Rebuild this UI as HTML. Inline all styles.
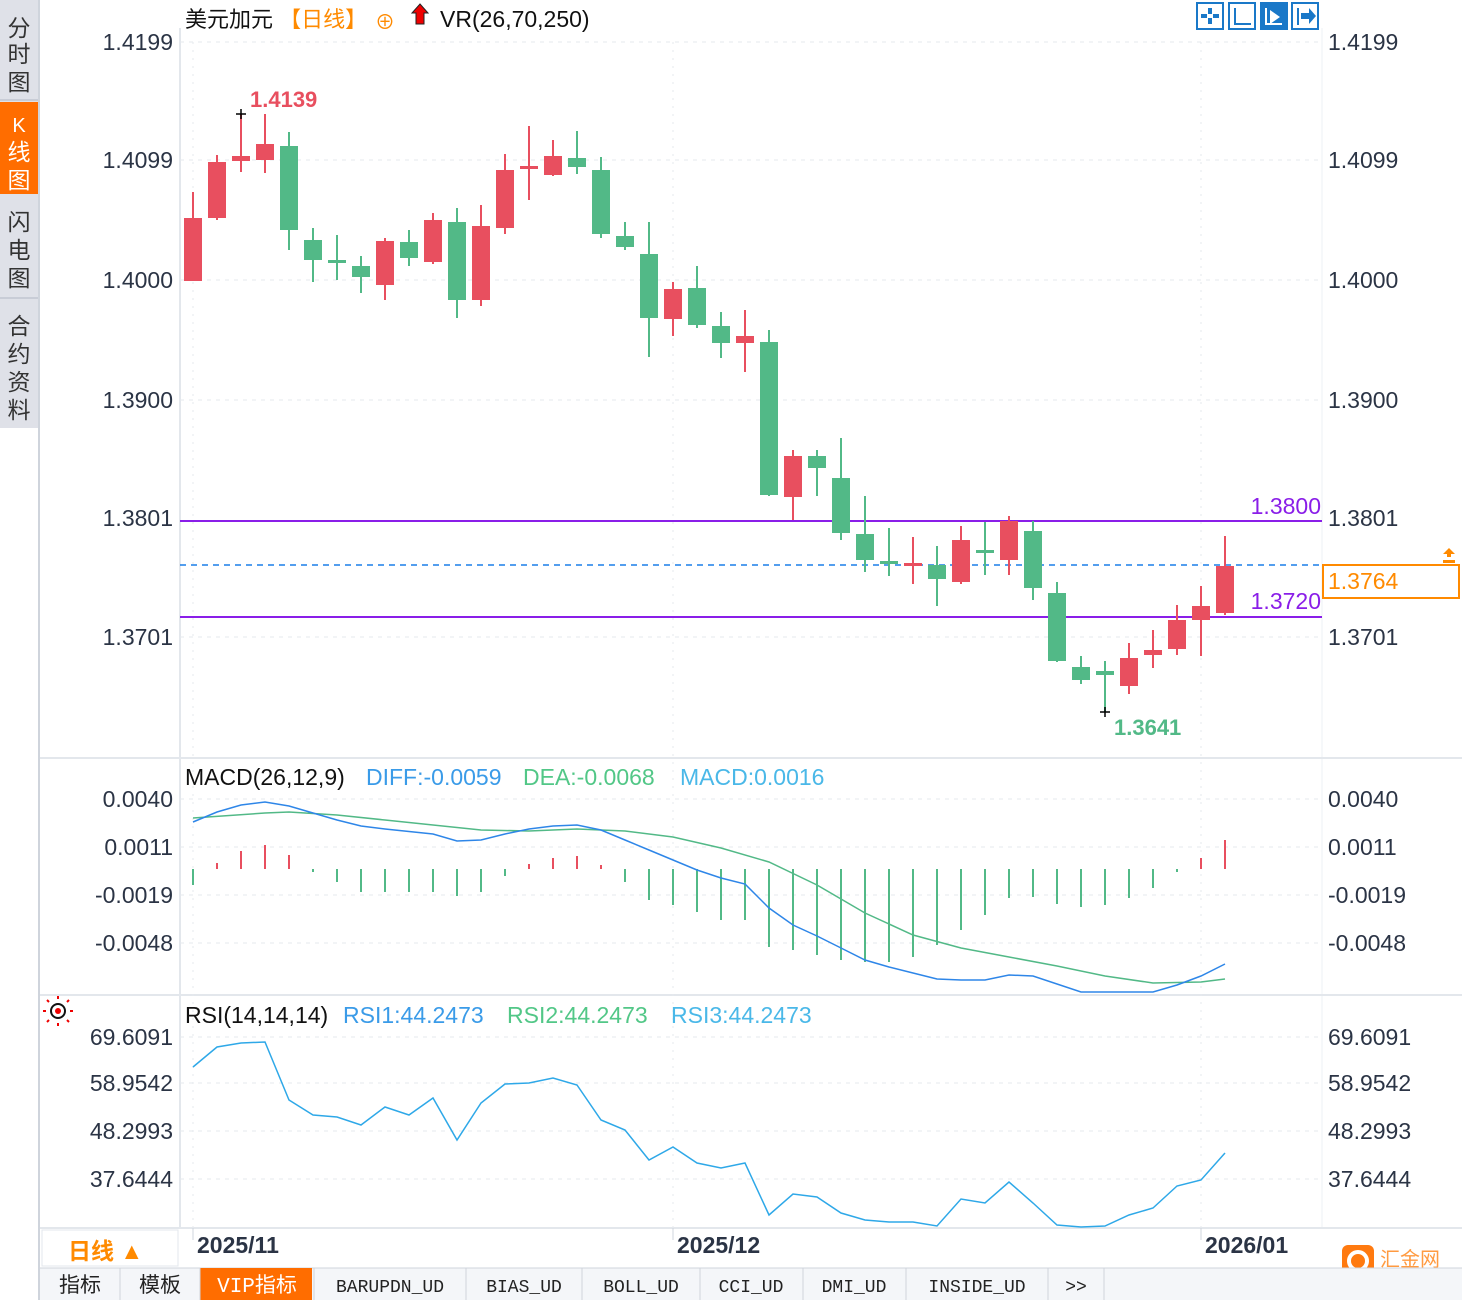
<!DOCTYPE html>
<html><head><meta charset="utf-8"><style>
html,body{margin:0;padding:0;background:#fff;}
svg{display:block;font-family:"Liberation Sans","Noto Sans CJK SC",sans-serif;}
</style></head><body>
<svg width="1462" height="1300" viewBox="0 0 1462 1300" xmlns="http://www.w3.org/2000/svg">
<rect x="0" y="0" width="40" height="1300" fill="#fff"/>
<rect x="0" y="0" width="38" height="428" fill="#dfe1e8"/>
<rect x="0" y="102" width="38" height="92" fill="#ff6d00"/>
<line x1="0" y1="100" x2="38" y2="100" stroke="#c8ccd6" stroke-width="2"/>
<line x1="0" y1="298" x2="38" y2="298" stroke="#c8ccd6" stroke-width="2"/>
<line x1="39" y1="0" x2="39" y2="1300" stroke="#cfd4dc" stroke-width="2"/>
<g font-size="23" fill="#333" text-anchor="middle">
<text x="19" y="36">分</text><text x="19" y="62">时</text><text x="19" y="90">图</text>
<text x="19" y="132" fill="#fff" font-size="20">K</text><text x="19" y="160" fill="#fff">线</text><text x="19" y="188" fill="#fff">图</text>
<text x="19" y="230">闪</text><text x="19" y="258">电</text><text x="19" y="286">图</text>
<text x="19" y="334">合</text><text x="19" y="362">约</text><text x="19" y="390">资</text><text x="19" y="418">料</text>
</g>
<line x1="180" y1="28" x2="180" y2="1228" stroke="#e3e7ec" stroke-width="2"/>
<line x1="1322" y1="28" x2="1322" y2="1228" stroke="#eef1f4" stroke-width="1"/>
<line x1="40" y1="758" x2="1462" y2="758" stroke="#e3e7ec" stroke-width="2"/>
<line x1="40" y1="995" x2="1462" y2="995" stroke="#e3e7ec" stroke-width="2"/>
<line x1="40" y1="1228" x2="1462" y2="1228" stroke="#e3e7ec" stroke-width="2"/>
<g stroke="#e6eaee" stroke-dasharray="4,5">
<line x1="180" y1="42" x2="1322" y2="42"/><line x1="180" y1="160" x2="1322" y2="160"/><line x1="180" y1="280" x2="1322" y2="280"/><line x1="180" y1="400" x2="1322" y2="400"/><line x1="180" y1="637" x2="1322" y2="637"/>
<line x1="180" y1="799" x2="1322" y2="799"/><line x1="180" y1="847" x2="1322" y2="847"/><line x1="180" y1="895" x2="1322" y2="895"/><line x1="180" y1="943" x2="1322" y2="943"/>
<line x1="180" y1="1037" x2="1322" y2="1037"/><line x1="180" y1="1083" x2="1322" y2="1083"/><line x1="180" y1="1131" x2="1322" y2="1131"/><line x1="180" y1="1179" x2="1322" y2="1179"/>
<line x1="193" y1="42" x2="193" y2="1228" stroke-dasharray="2,6"/><line x1="673" y1="42" x2="673" y2="1228" stroke-dasharray="2,6"/><line x1="1201" y1="42" x2="1201" y2="1228" stroke-dasharray="2,6"/>
</g>
<g font-size="23" fill="#2b3445">
<g text-anchor="end">
<text x="173" y="50">1.4199</text><text x="173" y="168">1.4099</text><text x="173" y="288">1.4000</text><text x="173" y="408">1.3900</text><text x="173" y="526">1.3801</text><text x="173" y="645">1.3701</text>
<text x="173" y="807">0.0040</text><text x="173" y="855">0.0011</text><text x="173" y="903">-0.0019</text><text x="173" y="951">-0.0048</text>
<text x="173" y="1045">69.6091</text><text x="173" y="1091">58.9542</text><text x="173" y="1139">48.2993</text><text x="173" y="1187">37.6444</text>
</g>
<text x="1328" y="50">1.4199</text><text x="1328" y="168">1.4099</text><text x="1328" y="288">1.4000</text><text x="1328" y="408">1.3900</text><text x="1328" y="526">1.3801</text><text x="1328" y="645">1.3701</text>
<text x="1328" y="807">0.0040</text><text x="1328" y="855">0.0011</text><text x="1328" y="903">-0.0019</text><text x="1328" y="951">-0.0048</text>
<text x="1328" y="1045">69.6091</text><text x="1328" y="1091">58.9542</text><text x="1328" y="1139">48.2993</text><text x="1328" y="1187">37.6444</text>
</g>
<text x="185" y="27" font-size="22" fill="#111">美元加元 <tspan fill="#ff8a00">【日线】</tspan></text>
<text x="375" y="29" font-size="20" fill="#ff8a00">⊕</text>
<path d="M420 4 L428 13 L424 13 L424 24 L416 24 L416 13 L412 13Z" fill="#e00" stroke="#222" stroke-width="1"/>
<text x="440" y="27" font-size="23" fill="#111">VR(26,70,250)</text>
<g fill="none" stroke="#1a78c8" stroke-width="2">
<rect x="1197" y="3" width="26" height="26"/><rect x="1229" y="3" width="26" height="26"/><rect x="1292" y="3" width="26" height="26"/>
</g>
<rect x="1260" y="2" width="28" height="28" fill="#1a78c8"/>
<g fill="#1a78c8"><rect x="1208" y="8" width="4" height="6"/><rect x="1208" y="18" width="4" height="6"/><rect x="1201" y="14" width="6" height="4"/><rect x="1213" y="14" width="6" height="4"/>
<rect x="1234" y="8" width="2" height="17"/><rect x="1234" y="23" width="17" height="2"/><rect x="1297" y="8" width="2" height="17"/><path d="M1301 13h8v-5l7 8-7 8v-5h-8z"/></g>
<g fill="#fff"><rect x="1265" y="8" width="2" height="17"/><rect x="1265" y="23" width="17" height="2"/><path d="M1270 10l10 7-10 7z"/></g>
<line x1="180" y1="521" x2="1322" y2="521" stroke="#8a1ee8" stroke-width="2"/>
<line x1="180" y1="617" x2="1322" y2="617" stroke="#8a1ee8" stroke-width="2"/>
<line x1="180" y1="565" x2="1322" y2="565" stroke="#1a7fe8" stroke-width="1.5" stroke-dasharray="6,5"/>
<text x="1321" y="514" font-size="23" fill="#8a1ee8" text-anchor="end">1.3800</text>
<text x="1321" y="609" font-size="23" fill="#8a1ee8" text-anchor="end">1.3720</text>
<rect x="1323" y="565" width="136" height="33" fill="#fff" stroke="#ff8a00" stroke-width="2"/>
<text x="1328" y="589" font-size="23" fill="#ff8a00">1.3764</text>
<path d="M1449 548l6 6h-4v3h-4v-3h-4z M1443 560h12v3h-12z" fill="#ff8a00"/>
<g>
<g stroke="#e84f5f" stroke-width="2"><line x1="193" y1="192" x2="193" y2="281"/><line x1="217" y1="155" x2="217" y2="220"/><line x1="241" y1="114" x2="241" y2="172"/><line x1="265" y1="114" x2="265" y2="173"/><line x1="385" y1="238" x2="385" y2="300"/><line x1="433" y1="213" x2="433" y2="264"/><line x1="481" y1="205" x2="481" y2="306"/><line x1="505" y1="154" x2="505" y2="234"/><line x1="529" y1="126" x2="529" y2="200"/><line x1="553" y1="140" x2="553" y2="176"/><line x1="673" y1="282" x2="673" y2="336"/><line x1="745" y1="310" x2="745" y2="372"/><line x1="793" y1="450" x2="793" y2="520"/><line x1="913" y1="537" x2="913" y2="584"/><line x1="961" y1="526" x2="961" y2="584"/><line x1="1009" y1="516" x2="1009" y2="575"/><line x1="1129" y1="643" x2="1129" y2="694"/><line x1="1153" y1="630" x2="1153" y2="668"/><line x1="1177" y1="605" x2="1177" y2="655"/><line x1="1201" y1="586" x2="1201" y2="656"/><line x1="1225" y1="536" x2="1225" y2="615"/></g>
<g fill="#e84f5f"><rect x="184" y="218" width="18" height="63"/><rect x="208" y="162" width="18" height="56"/><rect x="232" y="156" width="18" height="5"/><rect x="256" y="144" width="18" height="16"/><rect x="376" y="241" width="18" height="44"/><rect x="424" y="220" width="18" height="42"/><rect x="472" y="226" width="18" height="74"/><rect x="496" y="170" width="18" height="58"/><rect x="520" y="166" width="18" height="3"/><rect x="544" y="156" width="18" height="19"/><rect x="664" y="289" width="18" height="30"/><rect x="736" y="336" width="18" height="7"/><rect x="784" y="456" width="18" height="41"/><rect x="904" y="563" width="18" height="3"/><rect x="952" y="540" width="18" height="42"/><rect x="1000" y="521" width="18" height="39"/><rect x="1120" y="658" width="18" height="28"/><rect x="1144" y="650" width="18" height="5"/><rect x="1168" y="620" width="18" height="29"/><rect x="1192" y="606" width="18" height="14"/><rect x="1216" y="566" width="18" height="47"/></g>
<g stroke="#52b987" stroke-width="2"><line x1="289" y1="132" x2="289" y2="250"/><line x1="313" y1="228" x2="313" y2="282"/><line x1="337" y1="235" x2="337" y2="280"/><line x1="361" y1="256" x2="361" y2="293"/><line x1="409" y1="230" x2="409" y2="266"/><line x1="457" y1="208" x2="457" y2="318"/><line x1="577" y1="131" x2="577" y2="174"/><line x1="601" y1="157" x2="601" y2="238"/><line x1="625" y1="222" x2="625" y2="250"/><line x1="649" y1="222" x2="649" y2="357"/><line x1="697" y1="266" x2="697" y2="328"/><line x1="721" y1="312" x2="721" y2="358"/><line x1="769" y1="330" x2="769" y2="496"/><line x1="817" y1="450" x2="817" y2="496"/><line x1="841" y1="438" x2="841" y2="540"/><line x1="865" y1="496" x2="865" y2="572"/><line x1="889" y1="528" x2="889" y2="576"/><line x1="937" y1="546" x2="937" y2="606"/><line x1="985" y1="522" x2="985" y2="575"/><line x1="1033" y1="521" x2="1033" y2="600"/><line x1="1057" y1="582" x2="1057" y2="662"/><line x1="1081" y1="656" x2="1081" y2="684"/><line x1="1105" y1="661" x2="1105" y2="712"/></g>
<g fill="#52b987"><rect x="280" y="146" width="18" height="84"/><rect x="304" y="240" width="18" height="20"/><rect x="328" y="260" width="18" height="3"/><rect x="352" y="266" width="18" height="11"/><rect x="400" y="242" width="18" height="16"/><rect x="448" y="222" width="18" height="78"/><rect x="568" y="158" width="18" height="9"/><rect x="592" y="170" width="18" height="64"/><rect x="616" y="236" width="18" height="11"/><rect x="640" y="254" width="18" height="64"/><rect x="688" y="288" width="18" height="37"/><rect x="712" y="326" width="18" height="17"/><rect x="760" y="342" width="18" height="153"/><rect x="808" y="456" width="18" height="12"/><rect x="832" y="478" width="18" height="55"/><rect x="856" y="534" width="18" height="26"/><rect x="880" y="561" width="18" height="3"/><rect x="928" y="565" width="18" height="14"/><rect x="976" y="550" width="18" height="3"/><rect x="1024" y="531" width="18" height="57"/><rect x="1048" y="593" width="18" height="68"/><rect x="1072" y="667" width="18" height="13"/><rect x="1096" y="671" width="18" height="4"/></g>
</g>
<path d="M236 114h10M241 109v10M1100 712h10M1105 707v10" stroke="#000" stroke-width="1.5"/>
<text x="250" y="107" font-size="22" font-weight="bold" fill="#e84f5f">1.4139</text>
<text x="1114" y="735" font-size="22" font-weight="bold" fill="#52b987">1.3641</text>
<g font-size="23">
<text x="185" y="785" fill="#111">MACD(26,12,9)</text>
<text x="366" y="785" fill="#3a9be8">DIFF:-0.0059</text>
<text x="523" y="785" fill="#52c787">DEA:-0.0068</text>
<text x="680" y="785" fill="#4ab8e8">MACD:0.0016</text>
</g>
<g stroke="#e84f5f" stroke-width="2"><line x1="217" y1="863" x2="217" y2="869"/><line x1="241" y1="851" x2="241" y2="869"/><line x1="265" y1="845" x2="265" y2="869"/><line x1="289" y1="855" x2="289" y2="869"/><line x1="529" y1="864" x2="529" y2="869"/><line x1="553" y1="858" x2="553" y2="869"/><line x1="577" y1="856" x2="577" y2="869"/><line x1="601" y1="865" x2="601" y2="869"/><line x1="1201" y1="858" x2="1201" y2="869"/><line x1="1225" y1="840" x2="1225" y2="869"/></g>
<g stroke="#52b987" stroke-width="2"><line x1="193" y1="869" x2="193" y2="885"/><line x1="313" y1="869" x2="313" y2="872"/><line x1="337" y1="869" x2="337" y2="882"/><line x1="361" y1="869" x2="361" y2="892"/><line x1="385" y1="869" x2="385" y2="892"/><line x1="409" y1="869" x2="409" y2="892"/><line x1="433" y1="869" x2="433" y2="892"/><line x1="457" y1="869" x2="457" y2="896"/><line x1="481" y1="869" x2="481" y2="892"/><line x1="505" y1="869" x2="505" y2="876"/><line x1="625" y1="869" x2="625" y2="882"/><line x1="649" y1="869" x2="649" y2="900"/><line x1="673" y1="869" x2="673" y2="905"/><line x1="697" y1="869" x2="697" y2="912"/><line x1="721" y1="869" x2="721" y2="920"/><line x1="745" y1="869" x2="745" y2="920"/><line x1="769" y1="869" x2="769" y2="947"/><line x1="793" y1="869" x2="793" y2="950"/><line x1="817" y1="869" x2="817" y2="955"/><line x1="841" y1="869" x2="841" y2="960"/><line x1="865" y1="869" x2="865" y2="962"/><line x1="889" y1="869" x2="889" y2="962"/><line x1="913" y1="869" x2="913" y2="957"/><line x1="937" y1="869" x2="937" y2="945"/><line x1="961" y1="869" x2="961" y2="930"/><line x1="985" y1="869" x2="985" y2="915"/><line x1="1009" y1="869" x2="1009" y2="898"/><line x1="1033" y1="869" x2="1033" y2="897"/><line x1="1057" y1="869" x2="1057" y2="904"/><line x1="1081" y1="869" x2="1081" y2="907"/><line x1="1105" y1="869" x2="1105" y2="905"/><line x1="1129" y1="869" x2="1129" y2="898"/><line x1="1153" y1="869" x2="1153" y2="888"/><line x1="1177" y1="869" x2="1177" y2="872"/></g>
<polyline fill="none" stroke="#52b987" stroke-width="1.5" points="193,818 265,813 289,812 337,815 385,820 433,825 481,830 529,831 577,829 625,831 673,837 721,848 769,862 817,885 865,913 913,935 961,948 1009,957 1057,966 1105,976 1153,983 1201,982 1225,979"/>
<polyline fill="none" stroke="#2e86e8" stroke-width="1.5" points="193,822 217,812 241,805 265,802 289,806 313,813 337,820 361,826 385,829 433,834 457,841 481,840 505,834 529,829 553,826 577,825 601,830 625,840 649,850 673,860 697,870 721,878 745,884 769,908 793,925 817,936 841,948 865,960 889,967 913,973 937,979 961,980 985,980 1009,975 1033,976 1057,984 1081,992 1105,992 1129,992 1153,992 1177,985 1201,976 1225,964"/>
<g stroke="#e00" stroke-width="2"><circle cx="58" cy="1011" r="7" fill="none" stroke="#111"/><circle cx="58" cy="1011" r="3" fill="#e00" stroke="none"/>
<path d="M58 996v3M58 1023v3M43 1011h3M70 1011h3M47 1000l2 2M67 1020l2 2M47 1022l2-2M67 1002l2-2"/></g>
<g font-size="23">
<text x="185" y="1023" fill="#111">RSI(14,14,14)</text>
<text x="343" y="1023" fill="#3a9be8">RSI1:44.2473</text>
<text x="507" y="1023" fill="#52c787">RSI2:44.2473</text>
<text x="671" y="1023" fill="#4ab8e8">RSI3:44.2473</text>
</g>
<polyline fill="none" stroke="#2ea8e8" stroke-width="1.5" points="193,1067 217,1047 241,1043 265,1042 289,1100 313,1115 337,1117 361,1125 385,1107 409,1115 433,1098 457,1140 481,1103 505,1084 529,1083 553,1078 577,1085 601,1120 625,1130 649,1160 673,1147 697,1163 721,1168 745,1163 769,1215 793,1194 817,1197 841,1213 865,1220 889,1222 913,1222 937,1226 961,1199 985,1203 1009,1182 1033,1203 1057,1225 1081,1227 1105,1226 1129,1215 1153,1208 1177,1186 1201,1180 1225,1153"/>
<rect x="42" y="1230" width="136" height="36" fill="#fff" stroke="#e3e7ec"/>
<text x="68" y="1259" font-size="23" font-weight="bold" fill="#ff8a00">日线 ▲</text>
<g font-size="23" font-weight="bold" fill="#2b3445"><text x="197" y="1253">2025/11</text><text x="677" y="1253">2025/12</text><text x="1205" y="1253">2026/01</text></g>
<g stroke="#cfd4dc"><line x1="193" y1="1228" x2="193" y2="1240"/><line x1="673" y1="1228" x2="673" y2="1240"/><line x1="1201" y1="1228" x2="1201" y2="1240"/></g>
<rect x="1342" y="1245" width="32" height="32" rx="6" fill="#ff7a10"/>
<circle cx="1358" cy="1261" r="9" fill="none" stroke="#fff" stroke-width="4"/>
<text x="1380" y="1266" font-size="20" fill="#ff9a40">汇金网</text>
<rect x="40" y="1268" width="1422" height="32" fill="#f4f6f9"/>
<line x1="40" y1="1268" x2="1462" y2="1268" stroke="#cfd4dc"/>
<rect x="200" y="1268" width="112" height="32" fill="#ff6d00"/>
<g stroke="#cfd4dc"><line x1="120" y1="1268" x2="120" y2="1300"/><line x1="200" y1="1268" x2="200" y2="1300"/><line x1="314" y1="1268" x2="314" y2="1300"/><line x1="466" y1="1268" x2="466" y2="1300"/><line x1="582" y1="1268" x2="582" y2="1300"/><line x1="700" y1="1268" x2="700" y2="1300"/><line x1="803" y1="1268" x2="803" y2="1300"/><line x1="906" y1="1268" x2="906" y2="1300"/><line x1="1048" y1="1268" x2="1048" y2="1300"/><line x1="1104" y1="1268" x2="1104" y2="1300"/></g>
<g font-size="21" fill="#222" font-family="Liberation Mono, Noto Sans CJK SC, monospace" text-anchor="middle">
<text x="80" y="1292">指标</text><text x="160" y="1292">模板</text><text x="257" y="1292" fill="#fff">VIP指标</text>
<text x="390" y="1292" font-size="18">BARUPDN_UD</text><text x="524" y="1292" font-size="18">BIAS_UD</text><text x="641" y="1292" font-size="18">BOLL_UD</text><text x="751" y="1292" font-size="18">CCI_UD</text><text x="854" y="1292" font-size="18">DMI_UD</text><text x="977" y="1292" font-size="18">INSIDE_UD</text><text x="1076" y="1292" font-size="18">&gt;&gt;</text>
</g>
</svg>
</body></html>
